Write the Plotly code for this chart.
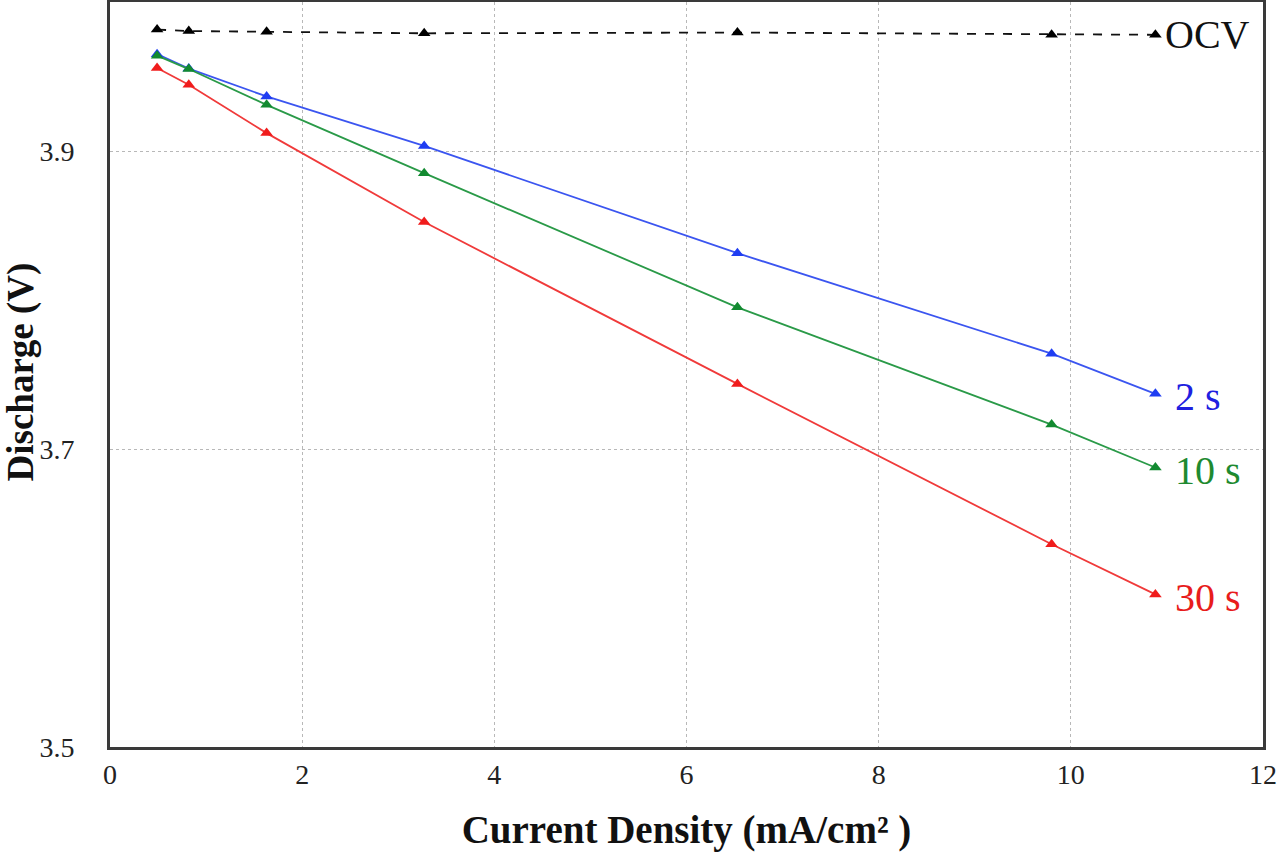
import plotly.graph_objects as go

current_density = [0.49, 0.82, 1.63, 3.27, 6.53, 9.8, 10.88]
ocv = [3.9815, 3.9805, 3.980, 3.979, 3.9795, 3.978, 3.978]
v_2s = [3.965, 3.9553, 3.9366, 3.9034, 3.8314, 3.7640, 3.7370]
v_10s = [3.964, 3.9550, 3.9310, 3.8851, 3.7951, 3.7164, 3.6876]
v_30s = [3.9557, 3.9445, 3.9120, 3.8523, 3.7437, 3.6361, 3.6024]

x_ticks = [0, 2, 4, 6, 8, 10, 12]
y_ticks = [3.5, 3.7, 3.9]

FONT = "Liberation Serif, Times New Roman, serif"

series = [
    ("OCV", ocv, "#111111", "#000000", "dash"),
    ("2 s", v_2s, "#3b55f0", "#1f3df2", "solid"),
    ("10 s", v_10s, "#2a9a48", "#128a30", "solid"),
    ("30 s", v_30s, "#f03a3a", "#f01c1c", "solid"),
]
label_colors = {"OCV": "#111111", "2 s": "#2020e0", "10 s": "#1e8a30", "30 s": "#e81c1c"}

fig = go.Figure()
for name, ys, lc, mc, dash in series:
    fig.add_trace(go.Scatter(
        x=current_density, y=ys, mode="lines+markers", name=name,
        line=dict(color=lc, width=1.8, dash=dash),
        marker=dict(symbol="triangle-up", size=11, color=mc),
        showlegend=False,
    ))
    fig.add_annotation(
        x=current_density[-1], y=ys[-1], text=name, showarrow=False,
        xanchor="left", yanchor="middle", xshift=18 if name != "OCV" else 8,
        yshift=-3 if name != "OCV" else 0,
        font=dict(family=FONT, size=40, color=label_colors[name]),
    )

# y-axis title as a rotated annotation placed at the left edge
fig.add_annotation(
    xref="paper", yref="paper", x=0, y=0.5, xshift=-90, yshift=2, showarrow=False,
    text="<b>Discharge (V)</b>", textangle=-90, xanchor="center", yanchor="middle",
    font=dict(family=FONT, size=37, color="#111111"),
)

axis_common = dict(
    showline=True, linewidth=3, linecolor="#3a3a3a", mirror=True,
    showgrid=True, gridcolor="#b8b8b8", griddash="dot", gridwidth=1,
    zeroline=False, ticks="", automargin=False, ticklabeloverflow="allow",
    tickfont=dict(family=FONT, size=28, color="#222222"),
)

fig.update_layout(
    width=1280, height=863,
    margin=dict(l=110, r=17, t=2, b=116),
    paper_bgcolor="white", plot_bgcolor="white",
    xaxis=dict(range=[0, 12], tickvals=x_ticks, ticktext=[str(t) for t in x_ticks],
               ticklabelstandoff=0,
               title=dict(text="<b>Current Density (mA/cm² )</b>", standoff=28,
                          font=dict(family=FONT, size=39, color="#111111")),
               **axis_common),
    yaxis=dict(range=[3.5, 4.0], tickvals=y_ticks, ticktext=[f"{t:.1f}" for t in y_ticks],
               ticklabelstandoff=27,
               **axis_common),
)

fig.write_html("out.html")
